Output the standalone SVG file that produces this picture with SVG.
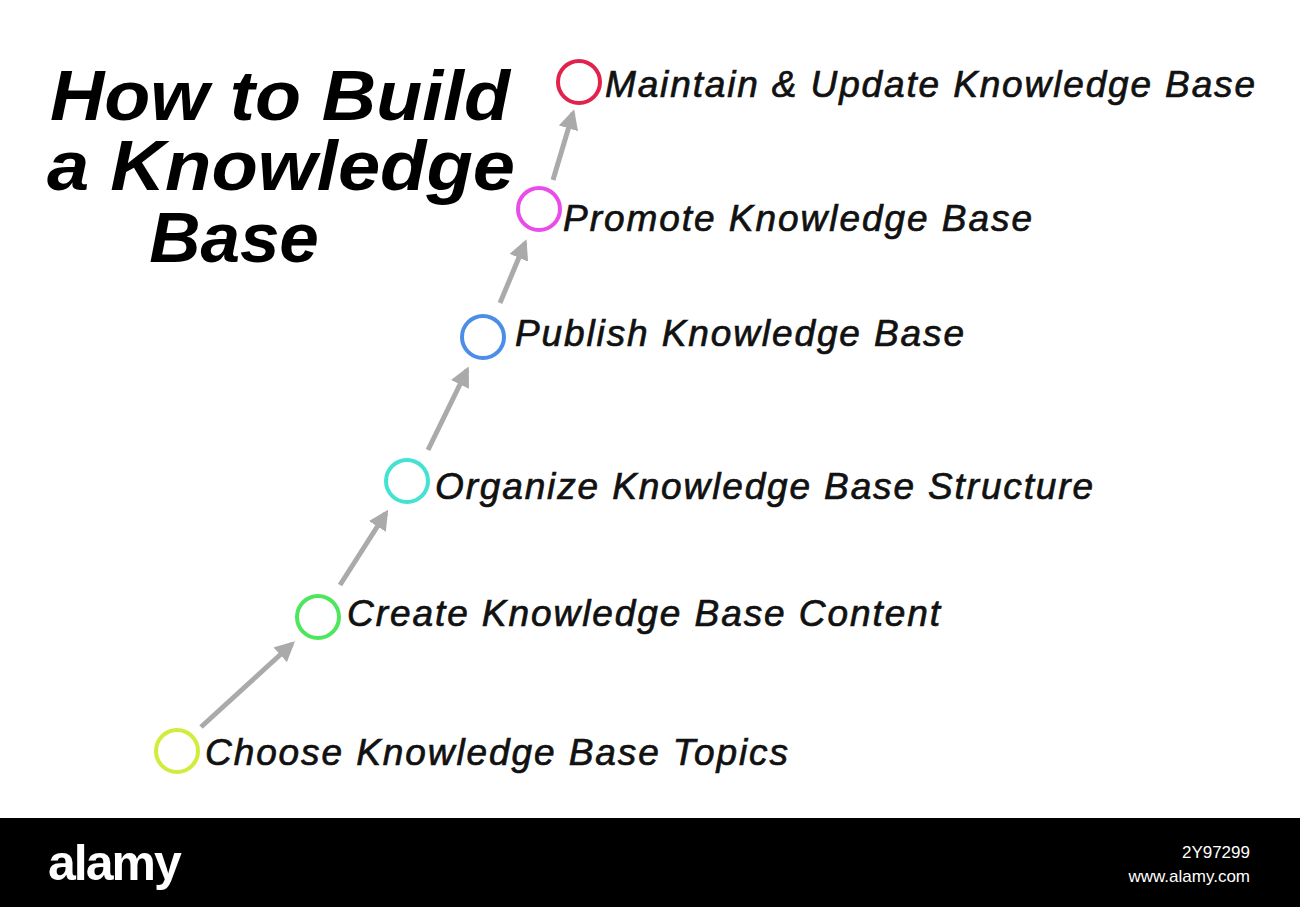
<svg xmlns="http://www.w3.org/2000/svg" width="1300" height="907" viewBox="0 0 1300 907">
<style>
.t{font-family:"Liberation Sans",Arial,sans-serif;font-style:italic;font-size:37px;fill:#111;stroke:#111;stroke-width:0.7}
.h{font-family:"Liberation Sans",Arial,sans-serif;font-style:italic;font-weight:bold;font-size:71px;fill:#000;text-anchor:middle}
.c{fill:none;stroke-width:4}
.a{stroke:#aaa;stroke-width:5;fill:none;marker-end:url(#m)}
</style>
<defs><marker id="m" viewBox="0 0 10 10" refX="8" refY="5" markerWidth="4" markerHeight="4" orient="auto"><path d="M0,0 L10,5 L0,10 z" fill="#aaa"/></marker></defs>
<rect width="1300" height="907" fill="#fff"/>
<g id="title"><text class="h" x="280" y="120" textLength="460" lengthAdjust="spacingAndGlyphs">How to Build</text><text class="h" x="281" y="190" textLength="468" lengthAdjust="spacingAndGlyphs">a Knowledge</text><text class="h" x="234" y="262">Base</text></g>
<g id="connectors">
<line class="a" x1="201" y1="727" x2="292" y2="644"/>
<line class="a" x1="340" y1="585" x2="386" y2="513"/>
<line class="a" x1="428" y1="450" x2="467" y2="370"/>
<line class="a" x1="500" y1="303" x2="525" y2="243"/>
<line class="a" x1="553" y1="180" x2="573" y2="113"/>
</g>
<g id="n1"><circle class="c" cx="177" cy="751" r="21" stroke="#d2ec3c"/><text class="t" x="205" y="765" textLength="583">Choose Knowledge Base Topics</text></g>
<g id="n2"><circle class="c" cx="318" cy="617" r="21" stroke="#4de65c"/><text class="t" x="347" y="626" textLength="593">Create Knowledge Base Content</text></g>
<g id="n3"><circle class="c" cx="407" cy="481" r="21" stroke="#44e2d2"/><text class="t" x="435" y="499" textLength="658">Organize Knowledge Base Structure</text></g>
<g id="n4"><circle class="c" cx="483" cy="337" r="21" stroke="#4a8ee8"/><text class="t" x="515" y="346" textLength="449">Publish Knowledge Base</text></g>
<g id="n5"><circle class="c" cx="539" cy="209" r="21" stroke="#ea4ce8"/><text class="t" x="563" y="231" textLength="469">Promote Knowledge Base</text></g>
<g id="n6"><circle class="c" cx="579" cy="82" r="21" stroke="#e2224c"/><text class="t" x="605" y="97" textLength="650">Maintain &amp; Update Knowledge Base</text></g>
<g id="footer"><rect x="0" y="818" width="1300" height="89" fill="#000"/>
<text x="48" y="880" font-family="Liberation Sans,Arial,sans-serif" font-weight="bold" font-size="50" fill="#fff" letter-spacing="-2">alamy</text>
<text x="1250" y="858" font-family="Liberation Sans,Arial,sans-serif" font-size="17" fill="#fff" text-anchor="end">2Y97299</text>
<text x="1250" y="882" font-family="Liberation Sans,Arial,sans-serif" font-size="17" fill="#fff" text-anchor="end">www.alamy.com</text></g>
</svg>
